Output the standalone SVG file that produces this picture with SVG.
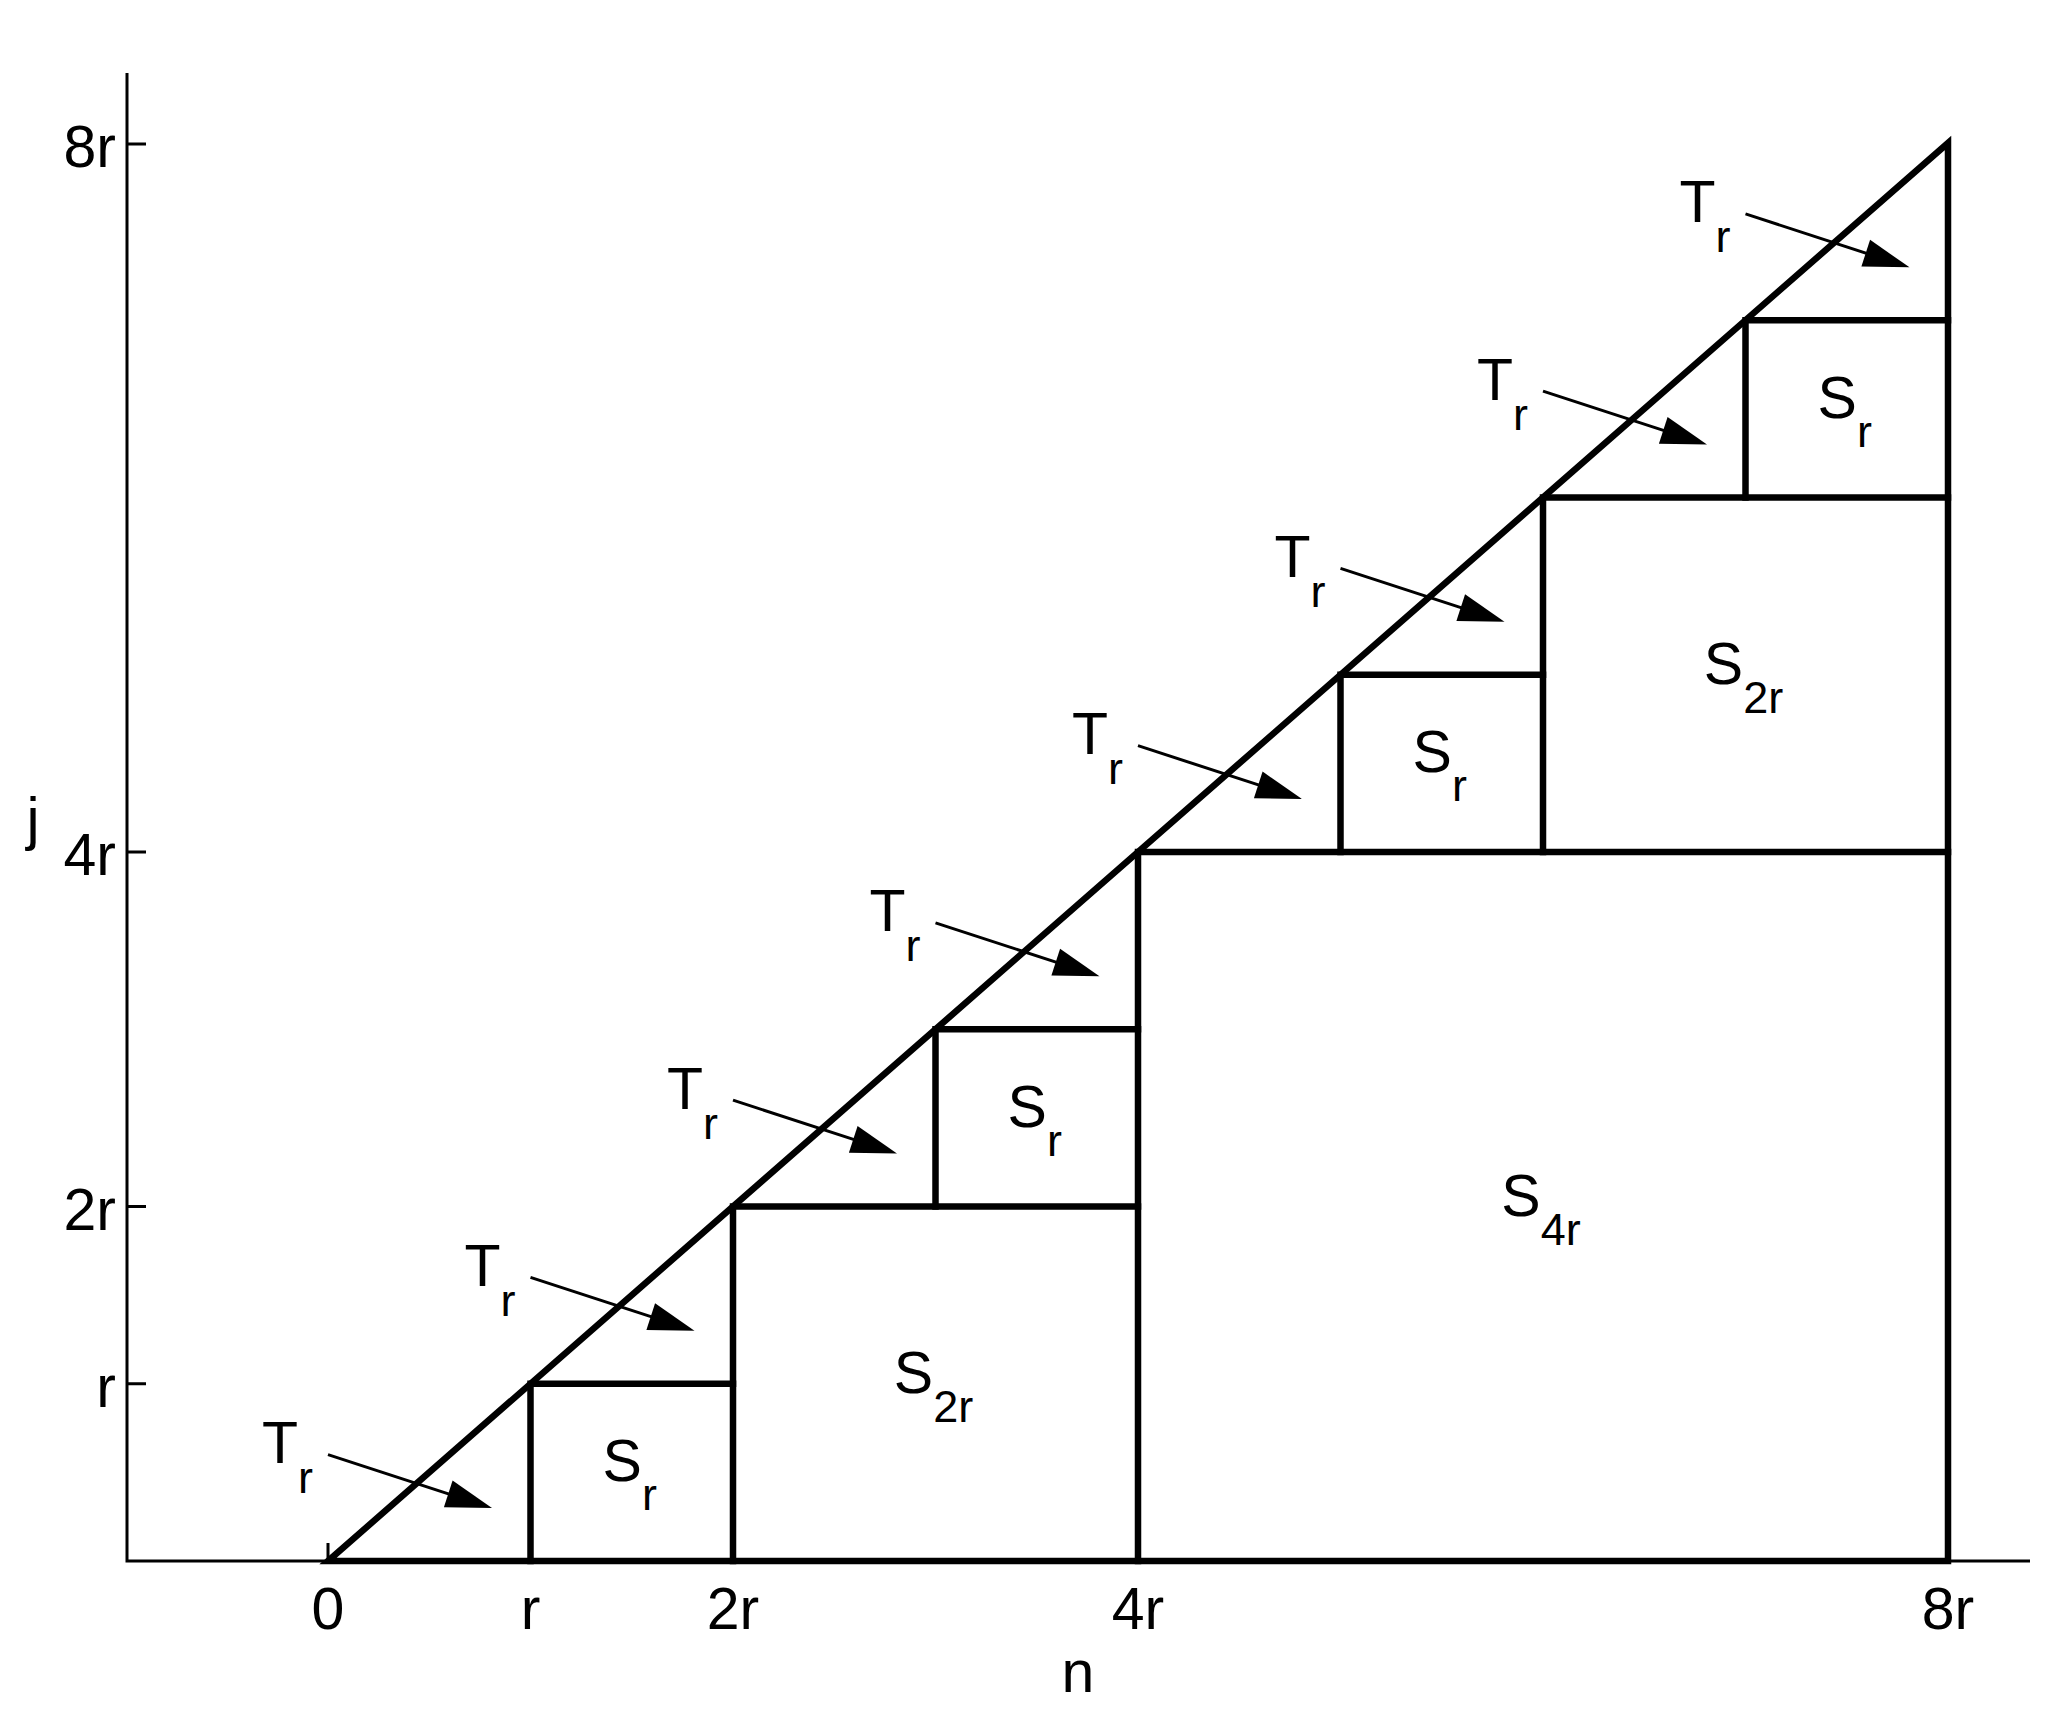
<svg xmlns="http://www.w3.org/2000/svg" width="2059" height="1717" viewBox="0 0 2059 1717">
<style>
text{font-family:"Liberation Sans",Arial,Helvetica,sans-serif;font-size:59px;fill:#000}
.sub{font-size:45px}
.ax{stroke:#000;stroke-width:3;fill:none}
.thick{stroke:#000;stroke-width:6.5;fill:none;stroke-linecap:square;stroke-linejoin:miter}
.arr{stroke:#000;stroke-width:3;fill:none;marker-end:url(#ah)}
</style>
<defs>
<marker id="ah" markerUnits="userSpaceOnUse" markerWidth="48" markerHeight="30" viewBox="0 -15 48 30" refX="5" refY="0" orient="auto" overflow="visible">
<path d="M0,-14 L46,0 L0,14 z" fill="#000"/>
</marker>
</defs>
<rect width="2059" height="1717" fill="#fff"/>
<g id="axes">
<path class="ax" d="M127,73 V1561 H2030"/>
<path class="ax" d="M127,144 H146 M127,852 H146 M127,1206.5 H146 M127,1383.75 H146 M328,1543 V1561"/>
<g id="ticklabels">
<text x="328" y="1629" text-anchor="middle">0</text>
<text x="530.5" y="1629" text-anchor="middle">r</text>
<text x="733" y="1629" text-anchor="middle">2r</text>
<text x="1138" y="1629" text-anchor="middle">4r</text>
<text x="1948" y="1629" text-anchor="middle">8r</text>
<text x="116" y="167" text-anchor="end">8r</text>
<text x="116" y="875" text-anchor="end">4r</text>
<text x="116" y="1229.5" text-anchor="end">2r</text>
<text x="116" y="1406.75" text-anchor="end">r</text>
</g>
<text id="xlabel" x="1078" y="1692" text-anchor="middle">n</text>
<text id="ylabel" x="33" y="839" text-anchor="middle">j</text>
</g>
<g id="outline">
<path class="thick" d="M328,1561 L1948,143 V1561 Z"/>
</g>
<g id="S_r_1"><path class="thick" d="M530.5,1561 V1383.75 H733"/><text x="629.75" y="1481.4" text-anchor="middle">S<tspan class="sub" dy="29">r</tspan></text></g>
<g id="S_2r_1"><path class="thick" d="M733,1561 V1206.5 H1138"/><text x="933.5" y="1392.75" text-anchor="middle">S<tspan class="sub" dy="29">2r</tspan></text></g>
<g id="S_r_2"><path class="thick" d="M935.5,1206.5 V1029.25 H1138"/><text x="1034.75" y="1126.6" text-anchor="middle">S<tspan class="sub" dy="29">r</tspan></text></g>
<g id="S_4r"><path class="thick" d="M1138,1561 V852 H1948"/><text x="1541" y="1215.5" text-anchor="middle">S<tspan class="sub" dy="29">4r</tspan></text></g>
<g id="S_r_3"><path class="thick" d="M1340.5,852 V674.75 H1543"/><text x="1439.75" y="772.1" text-anchor="middle">S<tspan class="sub" dy="29">r</tspan></text></g>
<g id="S_2r_2"><path class="thick" d="M1543,852 V497.5 H1948"/><text x="1743.5" y="683.75" text-anchor="middle">S<tspan class="sub" dy="29">2r</tspan></text></g>
<g id="S_r_4"><path class="thick" d="M1745.5,497.5 V320.25 H1948"/><text x="1844.75" y="417.6" text-anchor="middle">S<tspan class="sub" dy="29">r</tspan></text></g>
<g id="T_labels">
<text x="262" y="1463">T<tspan class="sub" dy="30">r</tspan></text>
<text x="464.5" y="1285.75">T<tspan class="sub" dy="30">r</tspan></text>
<text x="667" y="1108.5">T<tspan class="sub" dy="30">r</tspan></text>
<text x="869.5" y="931.25">T<tspan class="sub" dy="30">r</tspan></text>
<text x="1072" y="754">T<tspan class="sub" dy="30">r</tspan></text>
<text x="1274.5" y="576.75">T<tspan class="sub" dy="30">r</tspan></text>
<text x="1477" y="399.5">T<tspan class="sub" dy="30">r</tspan></text>
<text x="1679.5" y="222.25">T<tspan class="sub" dy="30">r</tspan></text>
</g>
<g id="connectors">
<line class="arr" x1="328" y1="1454.65" x2="453" y2="1495.4"/>
<line class="arr" x1="530.5" y1="1277.4" x2="655.5" y2="1318.15"/>
<line class="arr" x1="733" y1="1100.15" x2="858" y2="1140.9"/>
<line class="arr" x1="935.5" y1="922.9" x2="1060.5" y2="963.65"/>
<line class="arr" x1="1138" y1="745.65" x2="1263" y2="786.4"/>
<line class="arr" x1="1340.5" y1="568.4" x2="1465.5" y2="609.15"/>
<line class="arr" x1="1543" y1="391.15" x2="1668" y2="431.9"/>
<line class="arr" x1="1745.5" y1="213.9" x2="1870.5" y2="254.65"/>
</g>
</svg>
